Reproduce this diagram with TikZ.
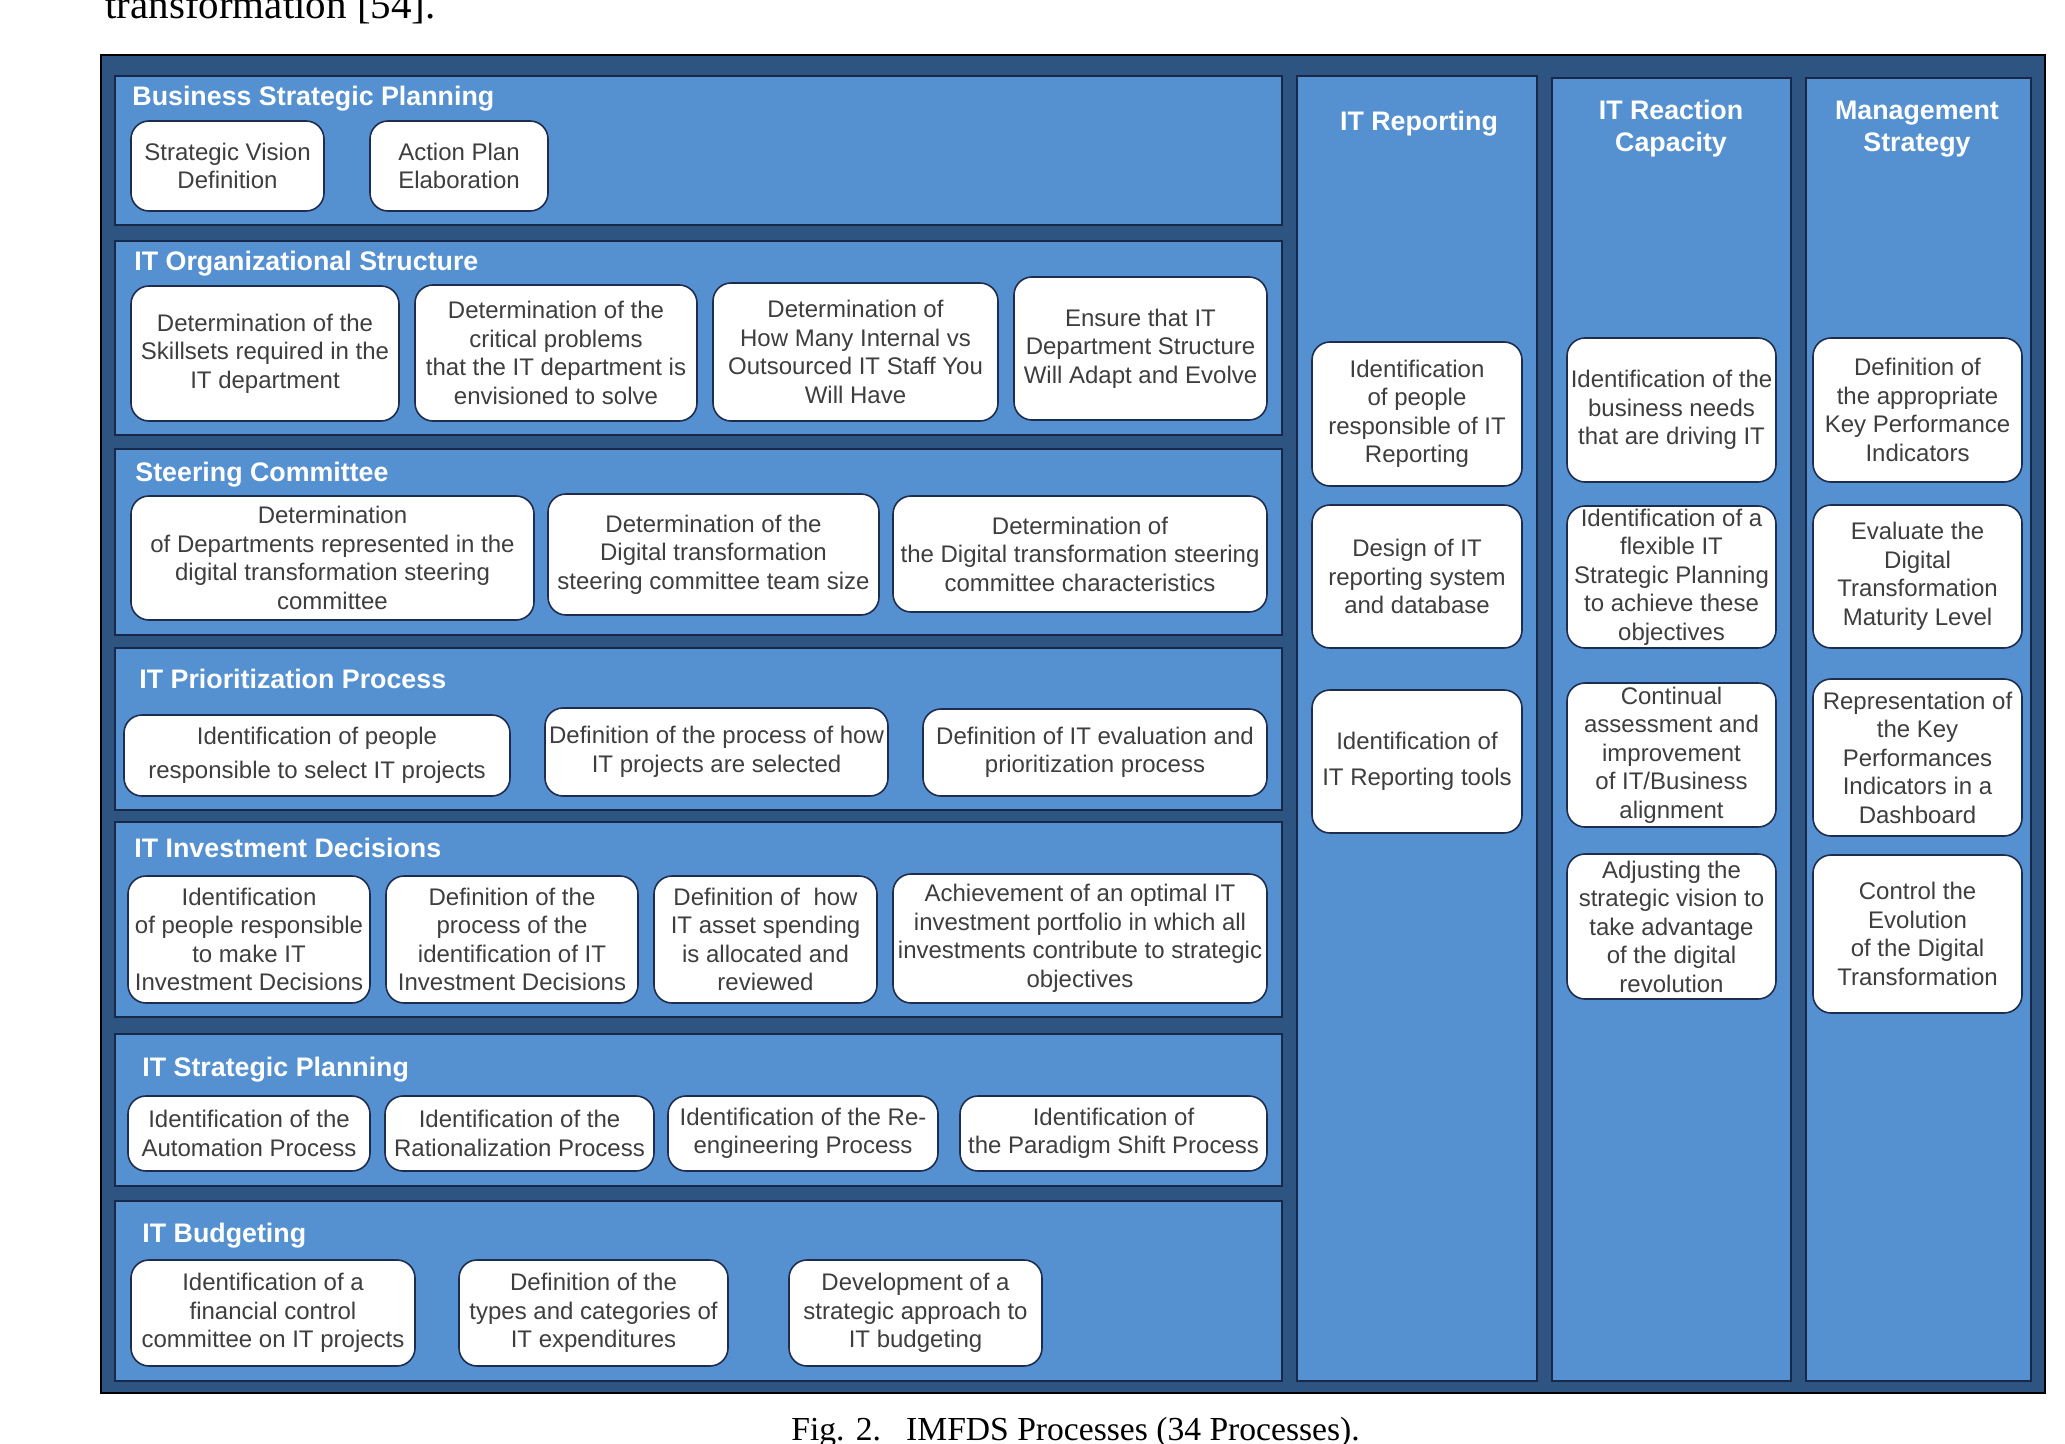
\documentclass[tikz,border=0pt]{standalone}
\usepackage{fontspec}
\setmainfont{Liberation Sans}
\newfontfamily\capserif{Liberation Serif}
\usepackage{tikz}
\usepackage{xcolor}

\definecolor{frameblue}{RGB}{46,84,129}
\definecolor{panelblue}{RGB}{85,145,209}
\definecolor{panelline}{RGB}{24,40,72}
\definecolor{procline}{RGB}{30,44,78}
\definecolor{proctext}{RGB}{62,62,62}

\tikzset{
  panel/.style={draw=panelline,line width=1pt,fill=panelblue},
  proc/.style={draw=procline,line width=0.8pt,fill=white,rounded corners=9pt,inner sep=0pt,
    align=center,text=proctext,font=\fontsize{12}{14.25}\selectfont},
  sz/.style 2 args={minimum width=#1*0.5pt,minimum height=#2*0.5pt},
  heading/.style={text=white,inner sep=0pt,align=center,font=\bfseries\fontsize{13.4}{16}\selectfont},
}

\begin{document}
\begin{tikzpicture}[x=0.5pt,y=-0.5pt]
\useasboundingbox (0,0) rectangle (2065,1444);

% surrounding text of the page
\node[anchor=base west,inner sep=0pt,font=\capserif\fontsize{20.5}{24}\selectfont] (prevline) at (105,19) {transformation [54].};
\node[anchor=base west,inner sep=0pt,font=\capserif\fontsize{16.8}{20}\selectfont] (caption) at (791,1440) {Fig. 2.\hspace{0.75em}IMFDS Processes (34 Processes).};

% frame and areas
\draw[fill=frameblue,draw=black,line width=1pt] (101,55) rectangle (2045,1393);
\draw[panel] (115,76) rectangle (1282,225);
\draw[panel] (115,241) rectangle (1282,435);
\draw[panel] (115,449) rectangle (1282,635);
\draw[panel] (115,648) rectangle (1282,810);
\draw[panel] (115,822) rectangle (1282,1017);
\draw[panel] (115,1034) rectangle (1282,1186);
\draw[panel] (115,1201) rectangle (1282,1381);
\draw[panel] (1297,76) rectangle (1537,1381);
\draw[panel] (1552,78) rectangle (1791,1381);
\draw[panel] (1806,78) rectangle (2031,1381);

% Business Strategic Planning
\node[heading,anchor=base west] (bspT) at (132,106) {Business Strategic Planning};
\node[proc,sz={193}{90}] (bsp1) at (227.5,166) {Strategic Vision\\Definition};
\node[proc,sz={178}{90}] (bsp2) at (459,166) {Action Plan\\Elaboration};

% IT Organizational Structure
\node[heading,anchor=base west] (itosT) at (134,271) {IT Organizational Structure};
\node[proc,sz={268}{135}] (itos1) at (265,353.5) {Determination of the\\Skillsets required in the\\IT department};
\node[proc,sz={282}{136}] (itos2) at (556,353) {Determination of the\\critical problems\\that the IT department is\\envisioned to solve};
\node[proc,sz={285}{138}] (itos3) at (855.5,352) {Determination of\\How Many Internal vs\\Outsourced IT Staff You\\Will Have};
\node[proc,sz={253}{143}] (itos4) at (1140.5,348.5) {Ensure that IT\\Department Structure\\Will Adapt and Evolve};

% Steering Committee
\node[heading,anchor=base west] (stcT) at (135,481) {Steering Committee};
\node[proc,sz={403}{124}] (stc1) at (332.5,558) {Determination\\of Departments represented in the\\digital transformation steering\\committee};
\node[proc,sz={331}{121}] (stc2) at (713.5,554.5) {Determination of the\\Digital transformation\\steering committee team size};
\node[proc,sz={374}{116}] (stc3) at (1080,554) {Determination of\\the Digital transformation steering\\committee characteristics};

% IT Prioritization Process
\node[heading,anchor=base west] (itppT) at (139,688) {IT Prioritization Process};
\node[proc,sz={386}{81}] (itpp1) at (317,755.5) {Identification of people\\[3pt]responsible to select IT projects};
\node[proc,sz={343}{88}] (itpp2) at (716.5,752) {Definition of the process of how\\IT projects are selected};
\node[proc,sz={344}{87}] (itpp3) at (1095,752.5) {Definition of IT evaluation and\\prioritization process};

% IT Investment Decisions
\node[heading,anchor=base west] (itidT) at (134,857) {IT Investment Decisions};
\node[proc,sz={242}{127}] (itid1) at (249,939.5) {Identification\\of people responsible\\to make IT\\Investment Decisions};
\node[proc,sz={252}{127}] (itid2) at (512,939.5) {Definition of the\\process of the\\identification of IT\\Investment Decisions};
\node[proc,sz={223}{127}] (itid3) at (765.5,939.5) {Definition of\ \ how\\IT asset spending\\is allocated and\\reviewed};
\node[proc,sz={374}{129}] (itid4) at (1080,938.5) {Achievement of an optimal IT\\investment portfolio in which all\\investments contribute to strategic\\objectives};

% IT Strategic Planning
\node[heading,anchor=base west] (itspT) at (142,1076) {IT Strategic Planning};
\node[proc,sz={242}{75}] (itsp1) at (249,1133.5) {Identification of the\\Automation Process};
\node[proc,sz={269}{75}] (itsp2) at (519.5,1133.5) {Identification of the\\Rationalization Process};
\node[proc,sz={270}{75}] (itsp3) at (803,1133.5) {Identification of the Re-\\engineering Process};
\node[proc,sz={307}{75}] (itsp4) at (1113.5,1133.5) {Identification of\\the Paradigm Shift Process};

% IT Budgeting
\node[heading,anchor=base west] (itbT) at (142,1242) {IT Budgeting};
\node[proc,sz={284}{106}] (itb1) at (273,1313) {Identification of a\\financial control\\committee on IT projects};
\node[proc,sz={269}{106}] (itb2) at (593.5,1313) {Definition of the\\types and categories of\\IT expenditures};
\node[proc,sz={253}{106}] (itb3) at (915.5,1313) {Development of a\\strategic approach to\\IT budgeting};

% IT Reporting
\node[heading,anchor=base] (itrT) at (1419,131) {IT Reporting};
\node[proc,sz={210}{144}] (itr1) at (1417,414) {Identification\\of people\\responsible of IT\\Reporting};
\node[proc,sz={210}{143}] (itr2) at (1417,576.5) {Design of IT\\reporting system\\and database};
\node[proc,sz={210}{143}] (itr3) at (1417,761.5) {Identification of\\[4pt]IT Reporting tools};

% IT Reaction Capacity
\node[heading] (itrcT) at (1671,129) {IT Reaction\\Capacity};
\node[proc,sz={209}{144}] (itrc1) at (1671.5,410) {Identification of the\\business needs\\that are driving IT};
\node[proc,sz={209}{142}] (itrc2) at (1671.5,577) {Identification of a\\flexible IT\\Strategic Planning\\to achieve these\\objectives};
\node[proc,sz={209}{144}] (itrc3) at (1671.5,755) {Continual\\assessment and\\improvement\\of IT/Business\\alignment};
\node[proc,sz={209}{145}] (itrc4) at (1671.5,926.5) {Adjusting the\\strategic vision to\\take advantage\\of the digital\\revolution};

% Management Strategy
\node[heading] (msT) at (1917,129) {Management\\Strategy};
\node[proc,sz={209}{144}] (ms1) at (1917.5,410) {Definition of\\the appropriate\\Key Performance\\Indicators};
\node[proc,sz={209}{143}] (ms2) at (1917.5,576.5) {Evaluate the\\Digital\\Transformation\\Maturity Level};
\node[proc,sz={209}{157}] (ms3) at (1917.5,757.5) {Representation of\\the Key\\Performances\\Indicators in a\\Dashboard};
\node[proc,sz={209}{158}] (ms4) at (1917.5,934) {Control the\\Evolution\\of the Digital\\Transformation};
\end{tikzpicture}
\end{document}
